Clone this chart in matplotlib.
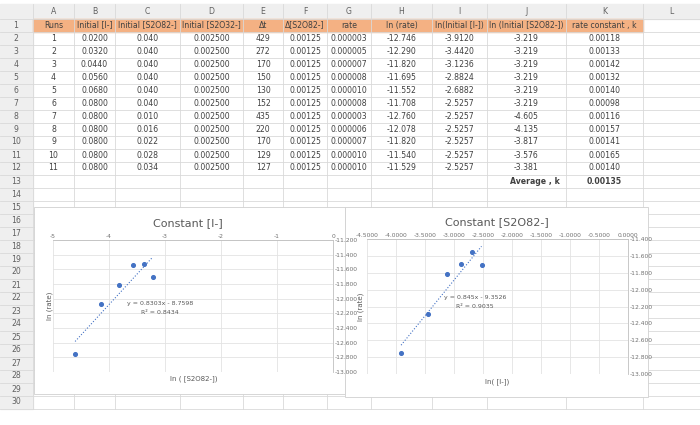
import matplotlib.pyplot as plt
from matplotlib.patches import Rectangle
import numpy as np

# Spreadsheet data
headers = ['Runs', 'Initial [I-]', 'Initial [S2O82-]', 'Initial [S2O32-]', '\u0394t', '\u0394[S2O82-]',
           'rate', 'ln (rate)', 'ln(Initial [I-])', 'ln (Initial [S2O82-])', 'rate constant , k']
runs = [1, 2, 3, 4, 5, 6, 7, 8, 9, 10, 11]
init_i = [0.0200, 0.0320, 0.0440, 0.0560, 0.0680, 0.0800, 0.0800, 0.0800, 0.0800, 0.0800, 0.0800]
init_s2o8 = [0.040, 0.040, 0.040, 0.040, 0.040, 0.040, 0.010, 0.016, 0.022, 0.028, 0.034]
init_s2o3 = [0.0025] * 11
delta_t = [429, 272, 170, 150, 130, 152, 435, 220, 170, 129, 127]
delta_s2o8 = [0.00125] * 11
rate = [0.000003, 0.000005, 0.000007, 0.000008, 0.000010, 0.000008, 0.000003, 0.000006, 0.000007, 0.000010, 0.000010]
ln_rate = [-12.746, -12.290, -11.820, -11.695, -11.552, -11.708, -12.760, -12.078, -11.820, -11.540, -11.529]
ln_i = [-3.9120, -3.4420, -3.1236, -2.8824, -2.6882, -2.5257, -2.5257, -2.5257, -2.5257, -2.5257, -2.5257]
ln_s2o8 = [-3.219, -3.219, -3.219, -3.219, -3.219, -3.219, -4.605, -4.135, -3.817, -3.576, -3.381]
k_const = [0.00118, 0.00133, 0.00142, 0.00132, 0.00140, 0.00098, 0.00116, 0.00157, 0.00141, 0.00165, 0.00140]
k_avg = 0.00135

col_edges = [0, 33, 74, 115, 180, 243, 283, 327, 371, 432, 487, 566, 643, 700]
col_letters = ['A', 'B', 'C', 'D', 'E', 'F', 'G', 'H', 'I', 'J', 'K', 'L']
row_h = 13.0
row_top0 = 18.5  # top of row 1

fig = plt.figure(figsize=(7, 4.25), dpi=100)
bg = fig.add_axes([0, 0, 1, 1])
bg.set_xlim(0, 700)
bg.set_ylim(425, 0)
bg.axis('off')

txt = '#404040'
grid = '#D9D9D9'
fs = 5.6

# header strips
bg.add_patch(Rectangle((0, 4), 700, row_top0 - 4, color='#EFEFEF', zorder=0))
bg.add_patch(Rectangle((0, row_top0), 33, 30 * row_h, color='#EFEFEF', zorder=0))
bg.add_patch(Rectangle((33, row_top0), 643 - 33, row_h, color='#F4B183', zorder=0))

for x in col_edges[1:-1]:
    bg.plot([x, x], [4, row_top0 + 30 * row_h], color=grid, lw=0.6, zorder=1)
for r in range(31):
    y = row_top0 + r * row_h
    bg.plot([0, 700], [y, y], color=grid, lw=0.6, zorder=1)

for i, c in enumerate(col_letters):
    bg.text((col_edges[i + 1] + col_edges[i + 2]) / 2, 11.5, c, ha='center', va='center', fontsize=fs, color='#606060')
for r in range(1, 31):
    bg.text(16, row_top0 + (r - 0.5) * row_h, str(r), ha='center', va='center', fontsize=fs, color='#606060')

def cell(col, row, s, bold=False):
    x = (col_edges[col + 1] + col_edges[col + 2]) / 2
    y = row_top0 + (row - 0.5) * row_h
    bg.text(x, y, s, ha='center', va='center', fontsize=fs, color=txt,
            fontweight='bold' if bold else 'normal', zorder=2)

for j, h in enumerate(headers):
    cell(j, 1, h)
for i in range(11):
    row = i + 2
    vals = [str(runs[i]), '%.4f' % init_i[i], '%.3f' % init_s2o8[i], '%.6f' % init_s2o3[i],
            str(delta_t[i]), '%.5f' % delta_s2o8[i], '%.6f' % rate[i], '%.3f' % ln_rate[i],
            '%.4f' % ln_i[i], '%.3f' % ln_s2o8[i], '%.5f' % k_const[i]]
    for j, v in enumerate(vals):
        cell(j, row, v)
bg.text(560, row_top0 + 12.5 * row_h, 'Average , k', ha='right', va='center', fontsize=fs, color=txt, fontweight='bold')
cell(10, 13, '%.5f' % k_avg, bold=True)

# chart boxes
bg.add_patch(Rectangle((34, 207), 311, 187, facecolor='white', edgecolor='#D0D0D0', lw=0.6, zorder=3))
bg.add_patch(Rectangle((345, 207), 303, 190, facecolor='white', edgecolor='#D0D0D0', lw=0.6, zorder=3))

blue = '#4472C4'

def chart(box, xs, ys, xlim, xstep, xfmt, ylim, title, xlabel, slope, icpt, r2, eqpos, titlepos, xlabpos, ylabx):
    l, t, r, b = box
    ax = fig.add_axes([l / 700, 1 - b / 425, (r - l) / 700, (b - t) / 425])
    ax.set_xlim(*xlim)
    ax.set_ylim(*ylim)
    xt = np.arange(xlim[0], xlim[1] + 1e-9, xstep)
    yt = np.arange(ylim[0], ylim[1] + 1e-9, 0.2)
    ax.set_xticks(xt)
    ax.set_yticks(yt)
    ax.set_xticklabels([xfmt % v for v in xt])
    ax.set_yticklabels(['%.3f' % v for v in yt])
    ax.xaxis.tick_top()
    ax.yaxis.tick_right()
    ax.tick_params(labelsize=4.3, colors='#707070', length=0, pad=1)
    ax.grid(True, color='#E3E3E3', lw=0.6)
    for s in ['left', 'bottom']:
        ax.spines[s].set_visible(False)
    for s in ['top', 'right']:
        ax.spines[s].set_color('#BFBFBF')
        ax.spines[s].set_linewidth(0.6)
    ax.scatter(xs, ys, s=7, color=blue, zorder=3)
    xx = np.array([min(xs), max(xs)])
    ax.plot(xx, slope * xx + icpt, color=blue, ls=':', lw=0.8)
    fig.text(titlepos[0] / 700, 1 - titlepos[1] / 425, title, ha='center', va='center', fontsize=8, color='#595959')
    fig.text(xlabpos[0] / 700, 1 - xlabpos[1] / 425, xlabel, ha='center', va='center', fontsize=5, color='#595959')
    fig.text(ylabx / 700, 1 - (t + b) / 2 / 425, 'ln (rate)', ha='center', va='center', rotation=90, fontsize=5, color='#595959')
    sign = '-' if icpt < 0 else '+'
    fig.text(eqpos[0] / 700, 1 - eqpos[1] / 425, 'y = %gx %s %g' % (slope, sign, abs(icpt)), ha='center', va='center', fontsize=4.5, color='#595959')
    fig.text(eqpos[0] / 700, 1 - (eqpos[1] + 9) / 425, 'R\u00b2 = %.4f' % r2, ha='center', va='center', fontsize=4.5, color='#595959')

# Constant [I-]: runs 6-11 against ln [S2O82-]
chart((53, 240, 333, 372), ln_s2o8[5:], ln_rate[5:], (-5, 0), 1, '%d', (-13.0, -11.2),
      'Constant [I-]', 'ln ( [S2O82-])', 0.8303, -8.7598, 0.8434, (160, 304), (188, 223), (194, 379), 50)
# Constant [S2O82-]: runs 1-6 against ln [I-]
chart((367, 239, 628, 374), ln_i[:6], ln_rate[:6], (-4.5, 0), 0.5, '%.4f', (-13.0, -11.4),
      'Constant [S2O82-]', 'ln( [I-])', 0.845, -9.3526, 0.9035, (475, 298), (497, 222), (497, 382), 361)

fig.savefig('out.png', dpi=100)
